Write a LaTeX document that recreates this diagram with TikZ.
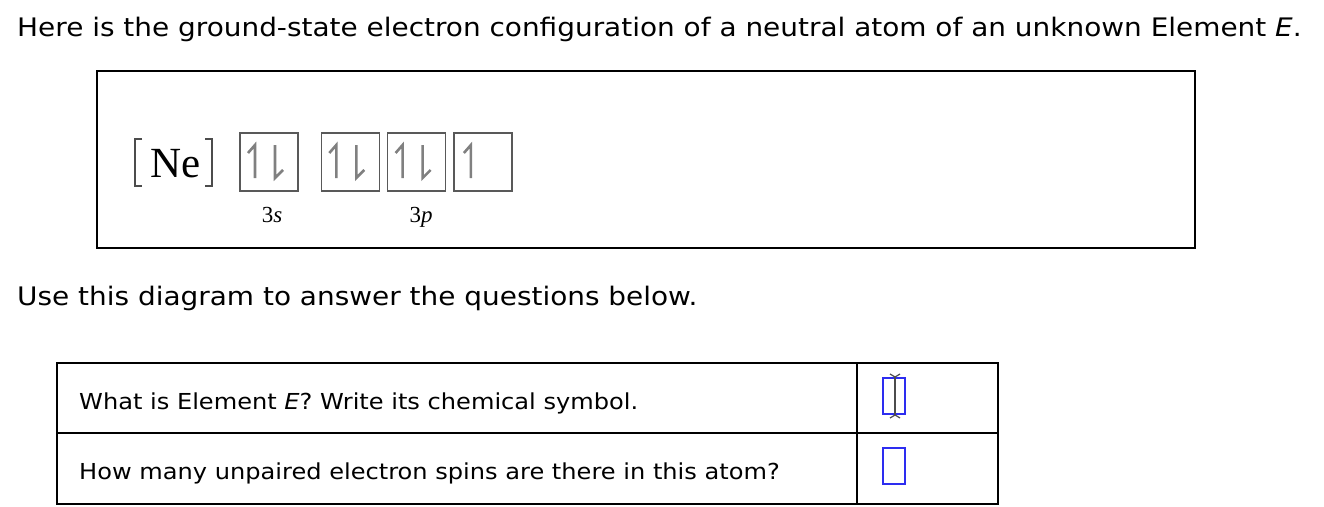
\documentclass[tikz,border=0pt]{standalone}
\usepackage{fontspec}
\setmainfont[FakeStretch=1.095]{DejaVu Sans}
\newfontfamily\serif{Liberation Serif}
\usepackage{xcolor}
\usetikzlibrary{positioning, calc}
\definecolor{inkblue}{RGB}{45,45,240}
\tikzset{
    orb/.style={
        draw=black!65,
        line width=1.3,
        minimum size=58,
        inner sep=0,
    },
    spin/.style={
        draw=black!50,
        line width=2.6,
    },
    txt/.style={
        anchor=base west,
        inner sep=0,
        font=\fontsize{25.5}{30}\selectfont,
    },
    ask/.style={
        anchor=base west,
        inner sep=0,
        font=\fontsize{22}{26}\selectfont,
    },
    lbl/.style={
        anchor=base,
        inner sep=0,
        font=\serif\fontsize{23}{26}\selectfont,
    },
    entry/.style={
        draw=inkblue,
        line width=1.5,
        minimum width=22,
        minimum height=36,
        inner sep=0,
    },
}
\newcommand{\spinup}[2]{\draw[spin] ($(#1.center)+(#2,16)$) -- ($(#1.center)+(#2,-17)$) -- ++(-7,8);}
\newcommand{\spindn}[2]{\draw[spin] ($(#1.center)+(#2,-17)$) -- ($(#1.center)+(#2,16)$) -- ++(8,-8);}

\begin{document}
\begin{tikzpicture}[x=1pt, y=-1pt]
      \useasboundingbox (0,0) rectangle (1324,506);

      \node [txt] (T) at (17,36) {Here is the ground-state electron configuration of a neutral atom of an unknown Element \textit{E}.};

      % configuration box
      \draw [line width=1.6] (97,71) rectangle (1195,248);
      \node [anchor=base, inner sep=0, font=\serif\fontsize{43}{46}\selectfont] (Ne) at (176,177) {Ne};
      \draw [line width=2.4, black!70] (142,139) -- (135,139) -- (135,186) -- (142,186);
      \draw [line width=2.4, black!70] (205,139) -- (212,139) -- (212,186) -- (205,186);

      \node [orb] (s1) at (269,162) {};
      \node [orb] (p1) [right=22 of s1] {};
      \node [orb] (p2) [right=7 of p1] {};
      \node [orb] (p3) [right=7 of p2] {};

      \spinup{s1}{-14} \spindn{s1}{6}
      \spinup{p1}{-14} \spindn{p1}{6}
      \spinup{p2}{-14} \spindn{p2}{6}
      \spinup{p3}{-12}

      \node [lbl] (ls) at (272,222) {3\textit{s}};
      \node [lbl] (lp) at (421,222) {3\textit{p}};

      \node [txt] (U) at (17,305) {Use this diagram to answer the questions below.};

      % question table
      \draw [line width=2.4] (57,363) rectangle (998,504);
      \draw [line width=2.4] (857,363) -- (857,504);
      \draw [line width=2.4] (57,433) -- (998,433);

      \node [ask] (q1) at (79,409) {What is Element \textit{E}? Write its chemical symbol.};
      \node [ask] (q2) at (79,479) {How many unpaired electron spins are there in this atom?};

      \node [entry] (a1) at (894,396) {};
      \node [entry] (a2) at (894,466) {};
      \draw [line width=2, black!70] (895,376) -- (895,416);
      \draw [line width=1.2, black!70] (890,374) -- (895,377) -- (900,374);
      \draw [line width=1.2, black!70] (890,418) -- (895,415) -- (900,418);
\end{tikzpicture}
\end{document}
